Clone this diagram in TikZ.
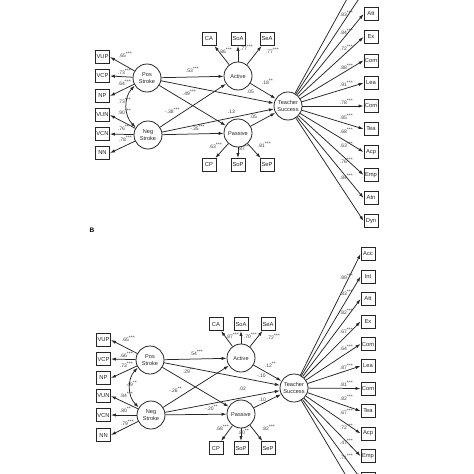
\documentclass[tikz,border=0pt]{standalone}
\usepackage{fontspec}
\setmainfont{Liberation Sans}
\usetikzlibrary{arrows.meta}
\newcommand\mysup[1]{\textsuperscript{#1}}
\tikzset{
  obs/.style={draw=black!85, line width=0.9pt, fill=white, minimum width=14pt, minimum height=13pt, inner sep=0pt, font=\fontsize{5.8}{6}\selectfont, text=black!85},
  lat/.style={circle, draw=black!85, line width=0.8pt, fill=white, minimum size=28pt, inner sep=0pt, align=center, font=\fontsize{5.6}{6.4}\selectfont, text=black!85},
  arr/.style={-{Latex[length=5pt,width=3.2pt]}, line width=0.75pt, draw=black!85},
  cov/.style={{Latex[length=5pt,width=3.2pt]}-{Latex[length=5pt,width=3.2pt]}, line width=0.75pt, draw=black!85},
  lab/.style={font=\fontsize{5}{5.5}\selectfont, text=black!75, inner sep=0pt, anchor=west, xshift=-3.2pt},
}
\begin{document}
\begin{tikzpicture}[x=1pt,y=-1pt]
\useasboundingbox (0,0) rectangle (474,474);
\clip (0,0) rectangle (474,474);
\fill[white] (0,0) rectangle (474,474);

% ================= Panel A =================
\foreach \n/\y in {VUP/57,VCP/76,NP/96,VUN/115,VCN/134,NN/153}
  \node[obs] (a\n) at (102.5,\y) {\n};
\node[lat] (aPos) at (147,78) {Pos\\Stroke};
\node[lat] (aNeg) at (148,135) {Neg\\Stroke};
\node[obs] (aCA) at (209,39) {CA};
\node[obs] (aSoA) at (238,39) {SoA};
\node[obs] (aSeA) at (267,39) {SeA};
\node[lat] (aAct) at (238,76) {Active};
\node[lat] (aPas) at (238,133) {Passive};
\node[obs] (aCP) at (209,165) {CP};
\node[obs] (aSoP) at (238,165) {SoP};
\node[obs] (aSeP) at (267,165) {SeP};
\node[lat] (aTS) at (288,106) {Teacher\\Success};
\coordinate (aR1) at (364,-32);
\coordinate (aR2) at (364,-9);
\foreach \k/\n/\y in {3/Att/14,4/Ex/37,5/Com/60.5,6/Lea/83,7/Com/106,8/Tea/129,9/Acp/152,10/Emp/175,11/Atn/198,12/Dyn/221}
  \node[obs] (aR\k) at (371,\y) {\n};

\foreach \n in {VUP,VCP,NP} \draw[arr] (aPos) -- (a\n.east);
\foreach \n in {VUN,VCN,NN} \draw[arr] (aNeg) -- (a\n.east);
\draw[cov] (aPos.212) to[bend right=45] (aNeg.148);
\draw[arr] (aPos) -- (aAct);
\draw[arr] (aPos) -- (aPas);
\draw[arr] (aPos) -- (aTS);
\draw[arr] (aNeg) -- (aAct);
\draw[arr] (aNeg) -- (aPas);
\draw[arr] (aNeg) -- (aTS);
\draw[arr] (aAct) -- (aTS);
\draw[arr] (aPas) -- (aTS);
\foreach \n in {CA,SoA,SeA} \draw[arr] (aAct) -- (a\n);
\foreach \n in {CP,SoP,SeP} \draw[arr] (aPas) -- (a\n);
\foreach \k in {1,2} \draw[arr] (aTS) -- (aR\k);
\foreach \k in {3,...,12} \draw[arr] (aTS) -- (aR\k.west);

\node[lab] (la1) at (122,55) {.65\mysup{***}};
\node[lab] (la2) at (121,72) {.73\mysup{***}};
\node[lab] (la3) at (121,83) {.64\mysup{***}};
\node[lab] (la4) at (121,101) {.73\mysup{***}};
\node[lab] (la5) at (121,112) {.90\mysup{***}};
\node[lab] (la6) at (121,128) {.76\mysup{**}};
\node[lab] (la7) at (122,139) {.78\mysup{***}};
\node[lab] (la8) at (189,70) {.53\mysup{***}};
\node[lab] (la9) at (186,93) {.49\mysup{***}};
\node[lab] (la10) at (168,111) {-.38\mysup{***}};
\node[lab] (la11) at (193,128) {-.35\mysup{***}};
\node[lab] (la12) at (231,112) {.13};
\node[lab] (la13) at (250,92) {.05};
\node[lab] (la14) at (265,82) {.18\mysup{**}};
\node[lab] (la15) at (253,117) {.05};
\node[lab] (la16) at (222,51) {.86\mysup{***}};
\node[lab] (la17) at (243,48) {.77\mysup{***}};
\node[lab] (la18) at (269,51) {.77\mysup{***}};
\node[lab] (la19) at (212,146) {.63\mysup{***}};
\node[lab] (la20) at (241,148) {.87\mysup{**}};
\node[lab] (la21) at (261,145) {.81\mysup{***}};
\foreach \v/\y [count=\i] in {.83/14,.84/32,.72/48,.88/67,.91/84,.78/102,.85/117,.68/131,.63/145,.76/161,.84/177}
  \node[lab] (lar\i) at (343,\y) {\v\mysup{***}};

% ================= Panel B =================
\node[font=\bfseries\fontsize{6.5}{7}\selectfont, inner sep=0pt] (blab) at (92,230) {B};
\foreach \n/\y in {VUP/340,VCP/359,NP/378,VUN/396,VCN/415,NN/435}
  \node[obs] (b\n) at (103.5,\y) {\n};
\node[lat] (bPos) at (150,360) {Pos\\Stroke};
\node[lat] (bNeg) at (151,415) {Neg\\Stroke};
\node[obs] (bCA) at (216,324) {CA};
\node[obs] (bSoA) at (241,324) {SoA};
\node[obs] (bSeA) at (268,324) {SeA};
\node[lat] (bAct) at (241,358) {Active};
\node[lat] (bPas) at (241,414) {Passive};
\node[obs] (bCP) at (216,448) {CP};
\node[obs] (bSoP) at (241,448) {SoP};
\node[obs] (bSeP) at (268,448) {SeP};
\node[lat] (bTS) at (294,388) {Teacher\\Success};
\foreach \k/\n/\y in {1/Acc/254,2/Int/276.5,3/Att/299,4/Ex/321.5,5/Com/344,6/Lea/366,7/Com/388.5,8/Tea/411,9/Acp/433.5,10/Emp/456}
  \node[obs] (bR\k) at (368,\y) {\n};
\node[obs] (bR11) at (368,478.5) {};
\coordinate (bR12) at (361,501);

\foreach \n in {VUP,VCP,NP} \draw[arr] (bPos) -- (b\n.east);
\foreach \n in {VUN,VCN,NN} \draw[arr] (bNeg) -- (b\n.east);
\draw[cov] (bPos.212) to[bend right=45] (bNeg.148);
\draw[arr] (bPos) -- (bAct);
\draw[arr] (bPos) -- (bPas);
\draw[arr] (bPos) -- (bTS);
\draw[arr] (bNeg) -- (bAct);
\draw[arr] (bNeg) -- (bPas);
\draw[arr] (bNeg) -- (bTS);
\draw[arr] (bAct) -- (bTS);
\draw[arr] (bPas) -- (bTS);
\foreach \n in {CA,SoA,SeA} \draw[arr] (bAct) -- (b\n);
\foreach \n in {CP,SoP,SeP} \draw[arr] (bPas) -- (b\n);
\foreach \k in {1,...,11} \draw[arr] (bTS) -- (bR\k.west);
\draw[arr] (bTS) -- (bR12);

\node[lab] (lb1) at (125,339) {.65\mysup{***}};
\node[lab] (lb2) at (123,355) {.66\mysup{***}};
\node[lab] (lb3) at (123,365) {.73\mysup{***}};
\node[lab] (lb4) at (129,384) {.49\mysup{**}};
\node[lab] (lb5) at (123,395) {.84\mysup{***}};
\node[lab] (lb6) at (123,410) {.80\mysup{**}};
\node[lab] (lb7) at (124,423) {.79\mysup{***}};
\node[lab] (lb8) at (193,353) {.54\mysup{***}};
\node[lab] (lb9) at (186,371) {.29\mysup{**}};
\node[lab] (lb10) at (172,390) {-.26\mysup{**}};
\node[lab] (lb11) at (208,408) {-.20\mysup{**}};
\node[lab] (lb12) at (242,389) {.02};
\node[lab] (lb13) at (260,376) {-.10};
\node[lab] (lb14) at (268,365) {.12\mysup{**}};
\node[lab] (lb15) at (262,400) {.10};
\node[lab] (lb16) at (229,336) {.87\mysup{***}};
\node[lab] (lb17) at (247,336) {.70\mysup{***}};
\node[lab] (lb18) at (270,337) {.72\mysup{***}};
\node[lab] (lb19) at (219,428) {.68\mysup{***}};
\node[lab] (lb20) at (241,432) {.80\mysup{**}};
\node[lab] (lb21) at (265,428) {.82\mysup{***}};
\foreach \v/\y [count=\i] in {.89/277,.83/293,.82/312,.67/331,.64/348,.87/367,.81/384,.82/398,.67/412,.72/427,.47/442,.71/457}
  \node[lab] (lbr\i) at (343,\y) {\v\mysup{***}};
\end{tikzpicture}
\end{document}
